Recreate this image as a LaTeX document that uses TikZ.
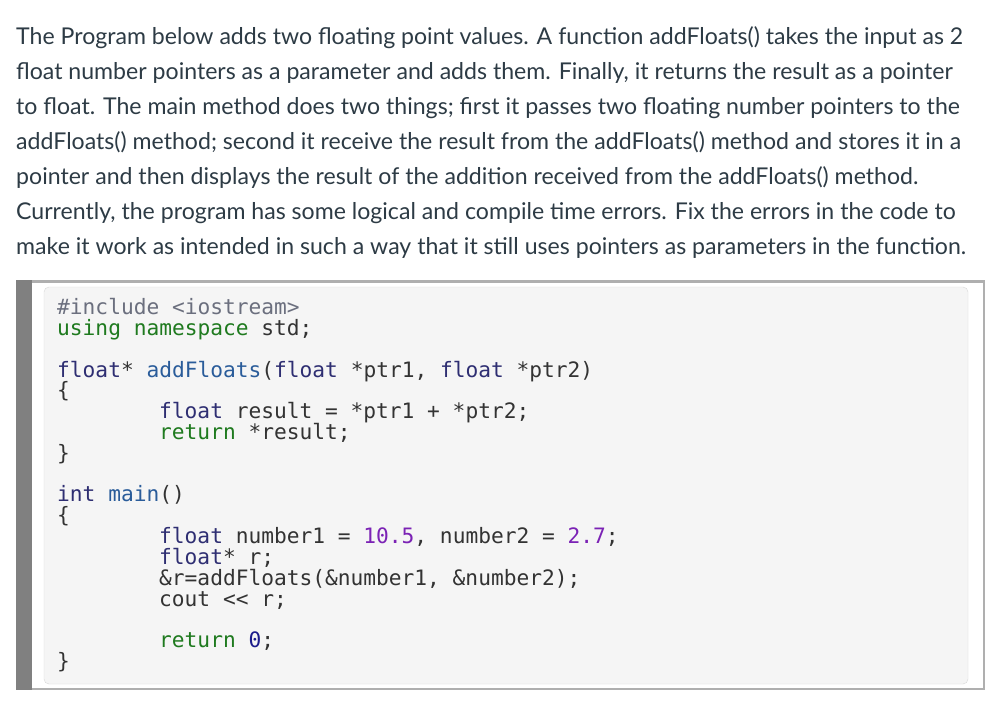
\documentclass[tikz,border=0pt]{standalone}
\usepackage{fontspec}
\setmainfont{Lato}
\newfontfamily\codefont{DejaVu Sans Mono}
\begin{document}
\begin{tikzpicture}[x=1pt,y=-1pt]
\definecolor{txt}{HTML}{2D3B45}
\definecolor{kw}{HTML}{2E2E72}
\definecolor{fn}{HTML}{2A5C9A}
\definecolor{gr}{HTML}{1F7A1F}
\definecolor{pp}{HTML}{6B6F7E}
\definecolor{nu}{HTML}{7B22B5}
\definecolor{zn}{HTML}{1C1C8C}
\definecolor{pl}{HTML}{333333}
\tikzset{para/.style={anchor=base west,inner sep=0pt,font=\fontsize{23.1}{26}\selectfont,text=txt},
 code/.style={anchor=base west,inner sep=0pt,font=\codefont\fontsize{21.2}{24}\selectfont,text=pl}}
\useasboundingbox (0,0) rectangle (1001,702);
\fill[white] (0,0) rectangle (1001,702);
\node[para] (p1) at (16,44) {The Program below adds two floating point values. A function addFloats() takes the input as 2};
\node[para] (p2) at (16,79) {float number pointers as a parameter and adds them. Finally, it returns the result as a pointer};
\node[para] (p3) at (16,114) {to float. The main method does two things; first it passes two floating number pointers to the};
\node[para] (p4) at (16,149) {addFloats() method; second it receive the result from the addFloats() method and stores it in a};
\node[para] (p5) at (16,184) {pointer and then displays the result of the addition received from the addFloats() method.};
\node[para] (p6) at (16,219) {Currently, the program has some logical and compile time errors. Fix the errors in the code to};
\node[para] (p7) at (16,254) {make it work as intended in such a way that it still uses pointers as parameters in the function.};
% outer frame
\fill[gray!95!black!60] (16,280) rectangle (985,690);
\fill[white] (32,283) rectangle (983,688);
\fill[gray!100] (16,280) rectangle (32,690);
\filldraw[fill=black!4,draw=black!15,rounded corners=5pt] (44,287) rectangle (968,684);
\node[code] (c1) at (57,314) {\textcolor{pp}{\#include <iostream>}};
\node[code] (c2) at (57,335) {\textcolor{gr}{using namespace} std;};
\node[code] (c3) at (57,377) {\textcolor{kw}{float}* \textcolor{fn}{addFloats}(\textcolor{kw}{float} *ptr1, \textcolor{kw}{float} *ptr2)};
\node[code] (c4) at (57,397) {\{};
\node[code] (c5) at (159,418) {\textcolor{kw}{float} result = *ptr1 + *ptr2;};
\node[code] (c6) at (159,439) {\textcolor{gr}{return} *result;};
\node[code] (c7) at (57,460) {\}};
\node[code] (c8) at (57,501) {\textcolor{kw}{int} \textcolor{fn}{main}()};
\node[code] (c9) at (57,522) {\{};
\node[code] (c10) at (159,543) {\textcolor{kw}{float} number1 = \textcolor{nu}{10.5}, number2 = \textcolor{nu}{2.7};};
\node[code] (c11) at (159,564) {\textcolor{kw}{float}* r;};
\node[code] (c12) at (159,585) {\&r=addFloats(\&number1, \&number2);};
\node[code] (c13) at (159,606) {cout << r;};
\node[code] (c14) at (159,647) {\textcolor{gr}{return} \textcolor{zn}{0};};
\node[code] (c15) at (57,668) {\}};
\end{tikzpicture}
\end{document}
